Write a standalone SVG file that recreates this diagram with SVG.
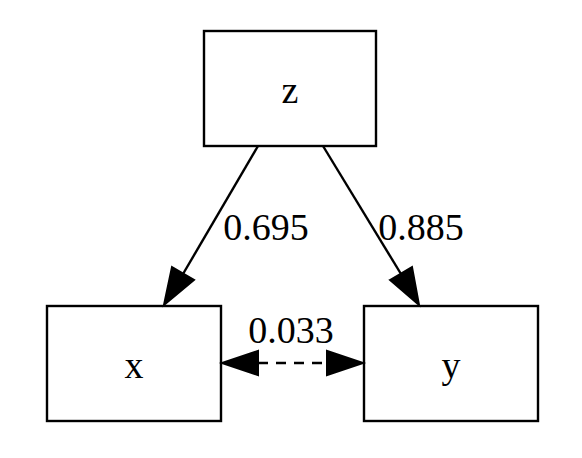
<svg xmlns="http://www.w3.org/2000/svg" width="582" height="458" viewBox="0 0 582 458">
<style>
.node rect{fill:#fff;stroke:#000;stroke-width:2.4}
text{font-family:"Liberation Serif","Times New Roman",serif;font-size:38px;fill:#000;text-anchor:middle}
.edge line{stroke:#000;stroke-width:2.4}
.edge polygon{fill:#000;stroke:#000;stroke-width:2}
</style>
<rect width="582" height="458" fill="#fff"/>
<g id="node-z" class="node">
<rect x="204" y="31" width="172" height="115"/>
<text x="290" y="103">z</text>
</g>
<g id="node-x" class="node">
<rect x="47" y="306" width="174" height="115"/>
<text x="134" y="378">x</text>
</g>
<g id="node-y" class="node">
<rect x="364" y="306" width="174" height="115"/>
<text x="451" y="378">y</text>
</g>
<g id="connectors">
<g class="edge" id="edge-z-x">
<line x1="258" y1="146" x2="183" y2="274"/>
<polygon points="172,267 194,280 164,305"/>
<text x="266" y="240">0.695</text>
</g>
<g class="edge" id="edge-z-y">
<line x1="323" y1="146" x2="401" y2="274"/>
<polygon points="390,280 412,267 419,305"/>
<text x="421" y="240">0.885</text>
</g>
<g class="edge" id="edge-x-y">
<line x1="258" y1="363" x2="327" y2="363" stroke-dasharray="10,8"/>
<polygon points="258,351 258,375 222,363"/>
<polygon points="327,351 327,375 363,363"/>
<text x="291" y="343">0.033</text>
</g>
</g>
</svg>
